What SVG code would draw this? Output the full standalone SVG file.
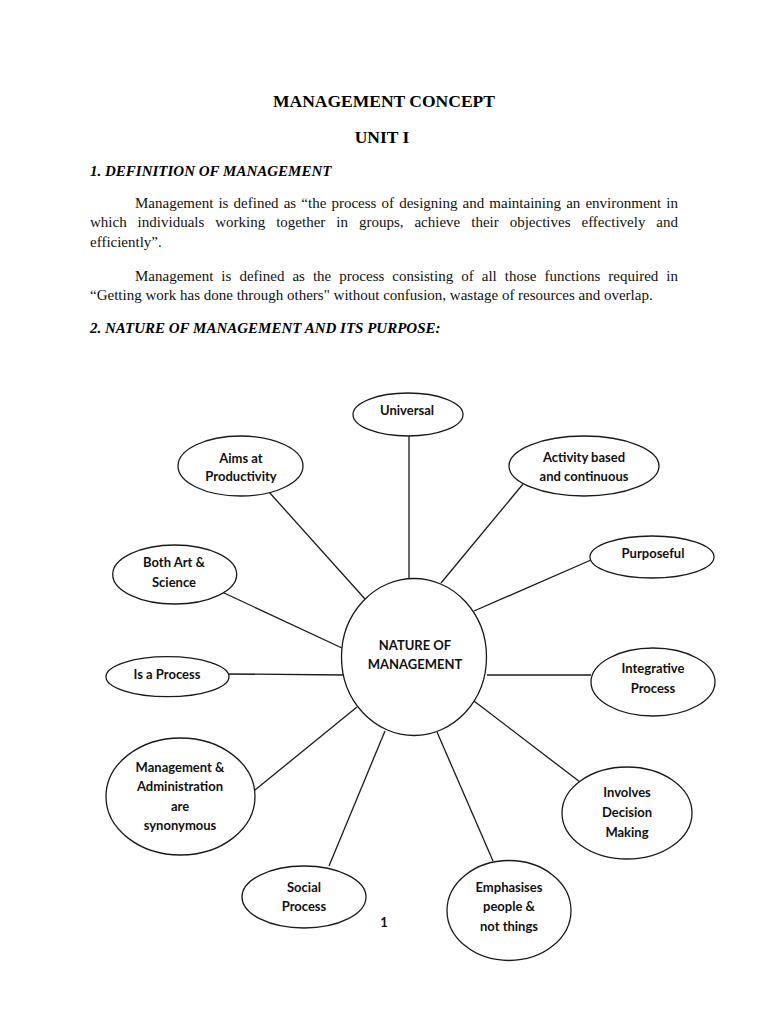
<svg xmlns="http://www.w3.org/2000/svg" width="768" height="1024" viewBox="0 0 768 1024">
<style>
.bg{fill:#ffffff}
.title{font-family:"Liberation Serif","Times New Roman",serif;font-weight:bold;font-size:17.5px;fill:#000;text-anchor:middle}
.head{font-family:"Liberation Serif","Times New Roman",serif;font-weight:bold;font-style:italic;font-size:15px;fill:#000}
.body{font-family:"Liberation Serif","Times New Roman",serif;font-size:15px;fill:#111}
.node ellipse{fill:#fff;stroke:#1a1a1a;stroke-width:1.3}
.node text{font-family:Lato,"Liberation Sans",sans-serif;font-weight:bold;font-size:13px;fill:#111;text-anchor:middle}
.edges line{stroke:#1a1a1a;stroke-width:1.3}
.pg{font-family:Lato,"Liberation Sans",sans-serif;font-weight:bold;font-size:13px;fill:#111;text-anchor:middle}
</style>
<rect class="bg" x="0" y="0" width="768" height="1024"/>

<text class="title" x="384" y="107">MANAGEMENT CONCEPT</text>
<text class="title" x="382" y="143">UNIT I</text>
<text class="head" x="90" y="176">1. DEFINITION OF MANAGEMENT</text>
<text class="body" x="135" y="207.7" word-spacing="1.37" textLength="543" lengthAdjust="spacing">Management is defined as “the process of designing and maintaining an environment in</text>
<text class="body" x="90" y="227.3" word-spacing="7.18" textLength="588" lengthAdjust="spacing">which individuals working together in groups, achieve their objectives effectively and</text>
<text class="body" x="90" y="246.7">efficiently”.</text>
<text class="body" x="135" y="280.7" word-spacing="4.28" textLength="543" lengthAdjust="spacing">Management is defined as the process consisting of all those functions required in</text>
<text class="body" x="90" y="300">“Getting work has done through others" without confusion, wastage of resources and overlap.</text>
<text class="head" x="90" y="333">2. NATURE OF MANAGEMENT AND ITS PURPOSE:</text>

<g class="edges">
<line x1="409" y1="436" x2="409" y2="578"/>
<line x1="269" y1="492" x2="365" y2="599"/>
<line x1="523" y1="484" x2="441" y2="583"/>
<line x1="591" y1="560" x2="474" y2="611"/>
<line x1="222" y1="592" x2="342" y2="648"/>
<line x1="229" y1="674" x2="345" y2="675"/>
<line x1="487" y1="675" x2="591" y2="675"/>
<line x1="474" y1="701" x2="580" y2="782"/>
<line x1="357" y1="707" x2="255" y2="790"/>
<line x1="385" y1="731" x2="329" y2="866"/>
<line x1="437" y1="732" x2="493" y2="861"/>
</g>

<g id="center" class="node">
<ellipse cx="414" cy="657" rx="72.5" ry="78.5"/>
<text x="415" y="650">NATURE OF</text>
<text x="415" y="669">MANAGEMENT</text>
</g>
<g id="universal" class="node">
<ellipse cx="408" cy="414.5" rx="55" ry="21.5"/>
<text x="407" y="415">Universal</text>
</g>
<g id="aims" class="node">
<ellipse cx="240.5" cy="466" rx="62.5" ry="30"/>
<text x="241" y="462.5">Aims at</text>
<text x="241" y="481">Productivity</text>
</g>
<g id="activity" class="node">
<ellipse cx="584" cy="466" rx="75" ry="30"/>
<text x="584" y="461.7">Activity based</text>
<text x="584" y="480.5">and continuous</text>
</g>
<g id="purposeful" class="node">
<ellipse cx="652" cy="557" rx="62" ry="21"/>
<text x="653" y="557.5">Purposeful</text>
</g>
<g id="artscience" class="node">
<ellipse cx="174.7" cy="574.5" rx="62" ry="29.5"/>
<text x="174" y="567">Both Art &amp;</text>
<text x="174" y="586.7">Science</text>
</g>
<g id="process" class="node">
<ellipse cx="167.5" cy="676.7" rx="61.5" ry="20"/>
<text x="167" y="678.5">Is a Process</text>
</g>
<g id="integrative" class="node">
<ellipse cx="653" cy="682" rx="62" ry="34"/>
<text x="653" y="673">Integrative</text>
<text x="653" y="693">Process</text>
</g>
<g id="decision" class="node">
<ellipse cx="627" cy="813" rx="65" ry="46"/>
<text x="627" y="796.7">Involves</text>
<text x="627" y="816.7">Decision</text>
<text x="627" y="836.7">Making</text>
</g>
<g id="synonymous" class="node">
<ellipse cx="180.5" cy="796.5" rx="74.5" ry="58.5"/>
<text x="180" y="771.7">Management &amp;</text>
<text x="180" y="790.7">Administration</text>
<text x="180" y="810.7">are</text>
<text x="180" y="830">synonymous</text>
</g>
<g id="social" class="node">
<ellipse cx="304" cy="897" rx="62" ry="31"/>
<text x="304" y="892">Social</text>
<text x="304" y="910.7">Process</text>
</g>
<g id="emphasises" class="node">
<ellipse cx="509" cy="910.5" rx="62" ry="50"/>
<text x="509" y="892">Emphasises</text>
<text x="509" y="911">people &amp;</text>
<text x="509" y="931">not things</text>
</g>

<text class="pg" x="384" y="927">1</text>
</svg>
